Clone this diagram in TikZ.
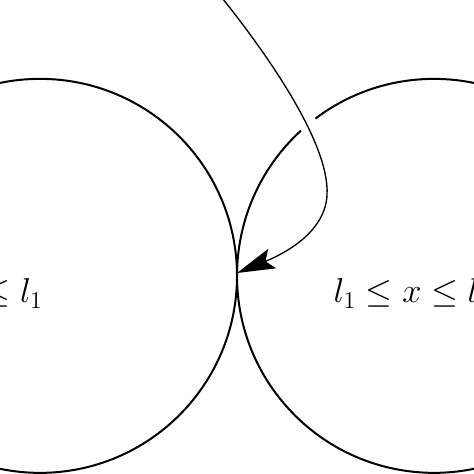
\documentclass[tikz,border=0pt]{standalone}
\usetikzlibrary{arrows.meta,calc}
\tikzset{
  disk/.style={line width=1.2pt},
  flow/.style={line width=0.8pt,-{Stealth[length=8mm,width=4.4mm,inset=1.5mm]}},
  lab/.style={inner sep=0pt,font=\fontsize{19.5}{22}\selectfont}
}
\begin{document}
\begin{tikzpicture}
\useasboundingbox (0,0) rectangle (10,10);
\clip (0,0) rectangle (10,10);
\coordinate (cl) at (0.844,4.18);
\coordinate (cr) at (9.156,4.18);
\coordinate (touch) at (5.0,4.24);
\coordinate (start) at (4.68,10.05);
\draw [disk] (cl) circle (4.156);
\draw [disk] ($(cr)+(132.5:4.156)$) arc (132.5:487:4.156);
\node [lab,anchor=base east] (left) at (0.91,3.61) {$\leq l_1$};
\node [lab,anchor=base west] (right) at (7.03,3.61) {$l_1 \leq x \leq l_1$};
\draw [flow] (start) .. controls (5.6,8.9) and (6.95,7.0) .. (6.9,5.9)
  .. controls (6.87,5.1) and (6.0,4.65) .. (touch);
\end{tikzpicture}
\end{document}
